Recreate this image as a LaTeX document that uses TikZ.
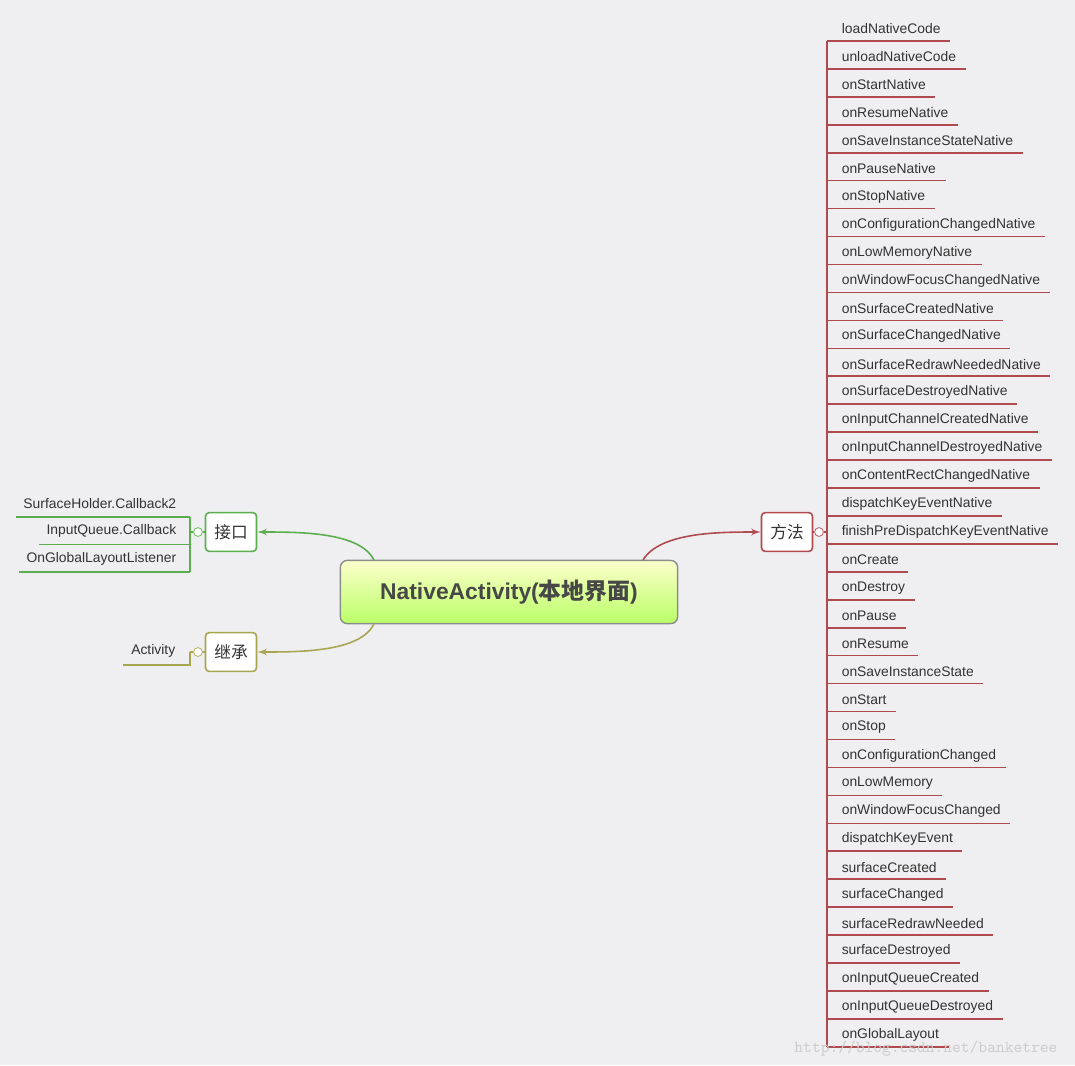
\documentclass[tikz,border=0pt]{standalone}
\usepackage{fontspec}
\setmainfont{Liberation Sans}
\newfontfamily\cjk{Noto Sans CJK SC}
\usetikzlibrary{arrows,calc,shapes.geometric}
\definecolor{bgray}{HTML}{EFEFF1}
\definecolor{txt}{HTML}{333333}
\definecolor{mred}{HTML}{B04A4E}
\definecolor{mgreen}{HTML}{5AAE4E}
\definecolor{molive}{HTML}{A8A550}
\tikzset{
  leaf/.style={inner xsep=0pt, inner ysep=1pt, text=txt, font=\fontsize{7.9}{9}\selectfont},
  topic/.style={draw, line width=0.9pt, rounded corners=2pt, fill=white, minimum width=29pt, minimum height=22pt, text=txt, font=\cjk\fontsize{9.5}{11}\selectfont},
  knob/.style={circle, draw=#1, fill=white, inner sep=0pt, minimum size=5pt, line width=0.4pt},
  central/.style={draw=gray!90, line width=0.8pt, rounded corners=4pt, top color=green!6!yellow!20, bottom color=green!45!yellow!60, minimum width=192pt, minimum height=36pt, text=txt!90, font=\bfseries\fontsize{13}{15}\selectfont}
}
\begin{document}
\begin{tikzpicture}[x=0.02cm, y=-0.02cm, >=latex', line width=0.9pt]
  \fill[bgray] (0,0) rectangle (1075,1065);
  \useasboundingbox (0,0) rectangle (1075,1065);

  \node[central] (c) at (509,592) {NativeActivity({\cjk 本地界面})};

  % methods
  \node[topic, draw=mred] (fa) at (787,532) {方法};
  \node[knob=mred] (kfa) at (819,532) {};
  \draw[mred] (fa) -- (kfa) -- (827,532);
  \draw[mred, ->] (643,560) .. controls (660,532) and (720,532) .. (fa.west);
  \foreach \t [count=\i] in {loadNativeCode,unloadNativeCode,onStartNative,onResumeNative,
    onSaveInstanceStateNative,onPauseNative,onStopNative,onConfigurationChangedNative,
    onLowMemoryNative,onWindowFocusChangedNative,onSurfaceCreatedNative,onSurfaceChangedNative,
    onSurfaceRedrawNeededNative,onSurfaceDestroyedNative,onInputChannelCreatedNative,
    onInputChannelDestroyedNative,onContentRectChangedNative,dispatchKeyEventNative,
    finishPreDispatchKeyEventNative,onCreate,onDestroy,onPause,onResume,onSaveInstanceState,
    onStart,onStop,onConfigurationChanged,onLowMemory,onWindowFocusChanged,dispatchKeyEvent,
    surfaceCreated,surfaceChanged,surfaceRedrawNeeded,surfaceDestroyed,onInputQueueCreated,
    onInputQueueDestroyed,onGlobalLayout} {
    \pgfmathsetmacro\yy{29+(\i-1)*27.94}
    \node[leaf, anchor=west] (m\i) at (841,\yy) {\t};
    \coordinate (u\i) at (827,\yy+12);
    \draw[mred] (u\i) -- ($(m\i.east |- u\i)+(5pt,0)$);
  }
  \draw[mred] (u1) -- (u37);

  % interfaces
  \node[topic, draw=mgreen] (jk) at (231,532) {接口};
  \node[knob=mgreen] (kjk) at (198,532) {};
  \draw[mgreen] (jk) -- (kjk) -- (190,532);
  \draw[mgreen, ->] (374,560) .. controls (360,532) and (300,532) .. (jk.east);
  \node[leaf, anchor=east] (j1) at (177,504) {SurfaceHolder.Callback2};
  \node[leaf, anchor=east] (j2) at (177,531) {InputQueue.Callback};
  \node[leaf, anchor=east] (j3) at (177,559) {OnGlobalLayoutListener};
  \foreach \j in {1,2,3} {
    \coordinate (v\j) at (190,{504+(\j-1)*27.5+13});
    \draw[mgreen] ($(j\j.west |- v\j)+(-4pt,0)$) -- (v\j);
  }
  \draw[mgreen] (v1) -- (v3);

  % inheritance
  \node[topic, draw=molive] (jc) at (231,652) {继承};
  \node[knob=molive] (kjc) at (198,652) {};
  \draw[molive] (jc) -- (kjc) -- (190,652);
  \draw[molive, ->] (374,624) .. controls (360,652) and (300,652) .. (jc.east);
  \node[leaf, anchor=east] (a1) at (176,651) {Activity};
  \coordinate (w1) at (190,665);
  \draw[molive] ($(a1.west |- w1)+(-4pt,0)$) -- (w1) -- (190,652);

  \node[text=gray!40, font=\ttfamily\fontsize{9.5}{10}\selectfont, anchor=east] (wm) at (1064,1049) {http://blog.csdn.net/banketree};
\end{tikzpicture}
\end{document}
